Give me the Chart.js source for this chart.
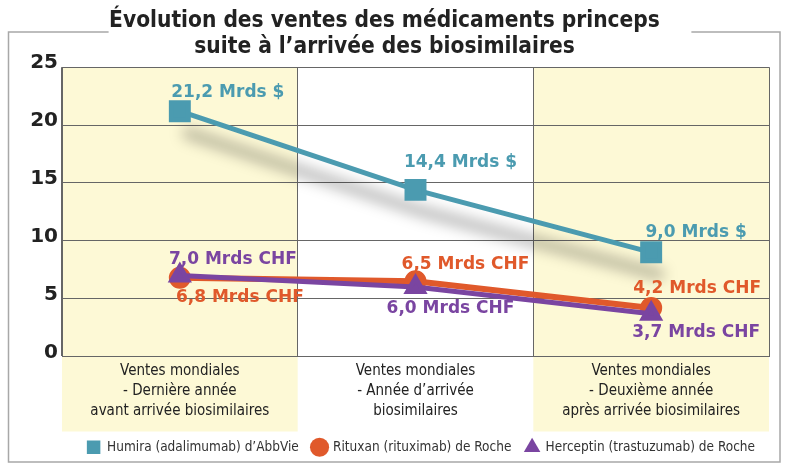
<!DOCTYPE html>
<html>
<head>
<meta charset="utf-8">
<script src="https://cdn.jsdelivr.net/npm/chart.js@4.4.1/dist/chart.umd.min.js"></script>
<style>
html, body { margin: 0; padding: 0; background: #fff; }
canvas { display: block; }
</style>
</head>
<body>
<canvas id="chart" width="800" height="468"></canvas>
<script>
const categories = [
    ['Ventes mondiales', '- Dernière année', 'avant arrivée biosimilaires'],
    ['Ventes mondiales', '- Année d’arrivée', 'biosimilaires'],
    ['Ventes mondiales', '- Deuxième année', 'après arrivée biosimilaires']
];
const seriesNames = [
    'Humira (adalimumab) d’AbbVie',
    'Rituxan (rituximab) de Roche',
    'Herceptin (trastuzumab) de Roche'
];
const humira = [21.2, 14.4, 9.0];
const rituxan = [6.8, 6.5, 4.2];
const herceptin = [7.0, 6.0, 3.7];
const units = ['Mrds $', 'Mrds CHF', 'Mrds CHF'];
const yMin = 0;
const yMax = 25;
const yStep = 5;
const titleLines = ['Évolution des ventes des médicaments princeps', 'suite à l’arrivée des biosimilaires'];

const TEAL = '#4b9bb0';
const ORANGE = '#e0592b';
const PURPLE = '#7a45a1';
const NARROW = '"Liberation Sans Narrow", "DejaVu Sans Condensed", sans-serif';
const WIDE = '"DejaVu Sans", Verdana, sans-serif';

// yellow columns + outer frame
const backdrop = {
    id: 'backdrop',
    beforeDraw(chart){
        const {ctx, chartArea} = chart;
        const colW = (chartArea.right - chartArea.left) / categories.length;
        ctx.save();
        ctx.fillStyle = '#fff';
        ctx.fillRect(0, 0, chart.width, chart.height);

        ctx.fillStyle = '#fdf9d6';
        [0, 2].forEach(i => {
            ctx.fillRect(chartArea.left + i * colW, chartArea.top, colW, chartArea.bottom - chartArea.top + 75);
        });

        ctx.font = 'bold 22.5px ' + NARROW;
        const gap = ctx.measureText(titleLines[0]).width / 2 + 16;
        const cx = chart.width / 2;
        ctx.strokeStyle = '#a8a8a8';
        ctx.lineWidth = 1.5;
        ctx.beginPath();
        ctx.moveTo(cx - gap, 32);
        ctx.lineTo(8.5, 32);
        ctx.lineTo(8.5, 462);
        ctx.lineTo(780, 462);
        ctx.lineTo(780, 32);
        ctx.lineTo(cx + gap, 32);
        ctx.stroke();
        ctx.restore();
    }
};

// blurred shadow under the Humira line
const lineShadow = {
    id: 'lineShadow',
    beforeDatasetsDraw(chart){
        const pts = chart.getDatasetMeta(0).data;
        const ctx = chart.ctx;
        ctx.save();
        ctx.filter = 'blur(7px)';
        ctx.strokeStyle = 'rgba(0,0,0,0.28)';
        ctx.lineWidth = 11;
        ctx.lineCap = 'round';
        ctx.beginPath();
        pts.forEach((p, i) => {
            const x = p.x + 8, y = p.y + 22;
            if(i == 0) ctx.moveTo(x, y); else ctx.lineTo(x, y);
        });
        ctx.stroke();
        ctx.restore();
    }
};

// value labels next to the points
const valueLabels = {
    id: 'valueLabels',
    afterDatasetsDraw(chart){
        const ctx = chart.ctx;
        ctx.save();
        ctx.font = 'bold 17px ' + WIDE;
        ctx.textAlign = 'center';
        ctx.textBaseline = 'middle';
        chart.data.datasets.forEach((ds, di) => {
            const meta = chart.getDatasetMeta(di);
            meta.data.forEach((pt, i) => {
                const off = ds.labelOffsets[i];
                const txt = ds.data[i].toFixed(1).replace('.', ',') + ' ' + units[di];
                ctx.fillStyle = ds.borderColor;
                ctx.fillText(txt, pt.x + off[0], pt.y + off[1]);
            });
        });
        ctx.restore();
    }
};

const ctx = document.getElementById('chart');
const chart = new Chart(ctx, {
    type: 'line',
    data: {
        labels: categories,
        datasets: [
            {
                label: seriesNames[0],
                data: humira,
                borderColor: TEAL,
                backgroundColor: TEAL,
                borderWidth: 5,
                pointStyle: 'rect',
                pointRadius: 12,
                pointHoverRadius: 12,
                order: 0,
                labelOffsets: [[48, -19], [45, -27], [45, -20]]
            },
            {
                label: seriesNames[1],
                data: rituxan,
                borderColor: ORANGE,
                backgroundColor: ORANGE,
                borderWidth: 6,
                pointStyle: 'circle',
                pointRadius: 8,
                pointHoverRadius: 8,
                order: 2,
                labelOffsets: [[60, 20], [50, -17], [46, -19]]
            },
            {
                label: seriesNames[2],
                data: herceptin,
                borderColor: PURPLE,
                backgroundColor: PURPLE,
                borderWidth: 5,
                pointStyle: 'triangle',
                pointRadius: 9,
                pointHoverRadius: 9,
                order: 1,
                labelOffsets: [[53, -16], [35, 22], [45, 19]]
            }
        ]
    },
    options: {
        responsive: false,
        animation: false,
        layout: { padding: { left: 0, right: 31, top: 0, bottom: 4 } },
        plugins: {
            title: {
                display: true,
                text: titleLines,
                color: '#222',
                font: { family: NARROW, weight: 'bold', size: 22.5, lineHeight: 1.16 },
                padding: { top: 8, bottom: 7 }
            },
            legend: {
                position: 'bottom',
                align: 'end',
                labels: {
                    usePointStyle: true,
                    boxHeight: 14,
                    padding: 14,
                    color: '#333',
                    font: { family: NARROW, size: 13.5 },
                    sort: (a, b) => a.datasetIndex - b.datasetIndex,
                    generateLabels(chart){
                        const items = Chart.defaults.plugins.legend.labels.generateLabels(chart);
                        items.forEach(it => { it.lineWidth = 0; });
                        return items;
                    }
                }
            },
            tooltip: { enabled: false }
        },
        scales: {
            x: {
                offset: true,
                grid: { offset: true, color: '#666', lineWidth: 1, drawTicks: false },
                border: { color: '#666' },
                ticks: {
                    padding: 5,
                    color: '#222',
                    font: { family: NARROW, size: 15, lineHeight: 1.33 }
                },
                afterFit(scale){ scale.height = 70; }
            },
            y: {
                min: yMin,
                max: yMax,
                grid: { color: '#666', lineWidth: 1, drawTicks: false },
                border: { color: '#666' },
                ticks: {
                    stepSize: yStep,
                    padding: 4,
                    labelOffset: -4,
                    color: '#222',
                    font: { family: WIDE, weight: 'bold', size: 20 }
                },
                afterFit(scale){ scale.width = 62; }
            }
        }
    },
    plugins: [backdrop, lineShadow, valueLabels]
});
</script>
</body>
</html>
